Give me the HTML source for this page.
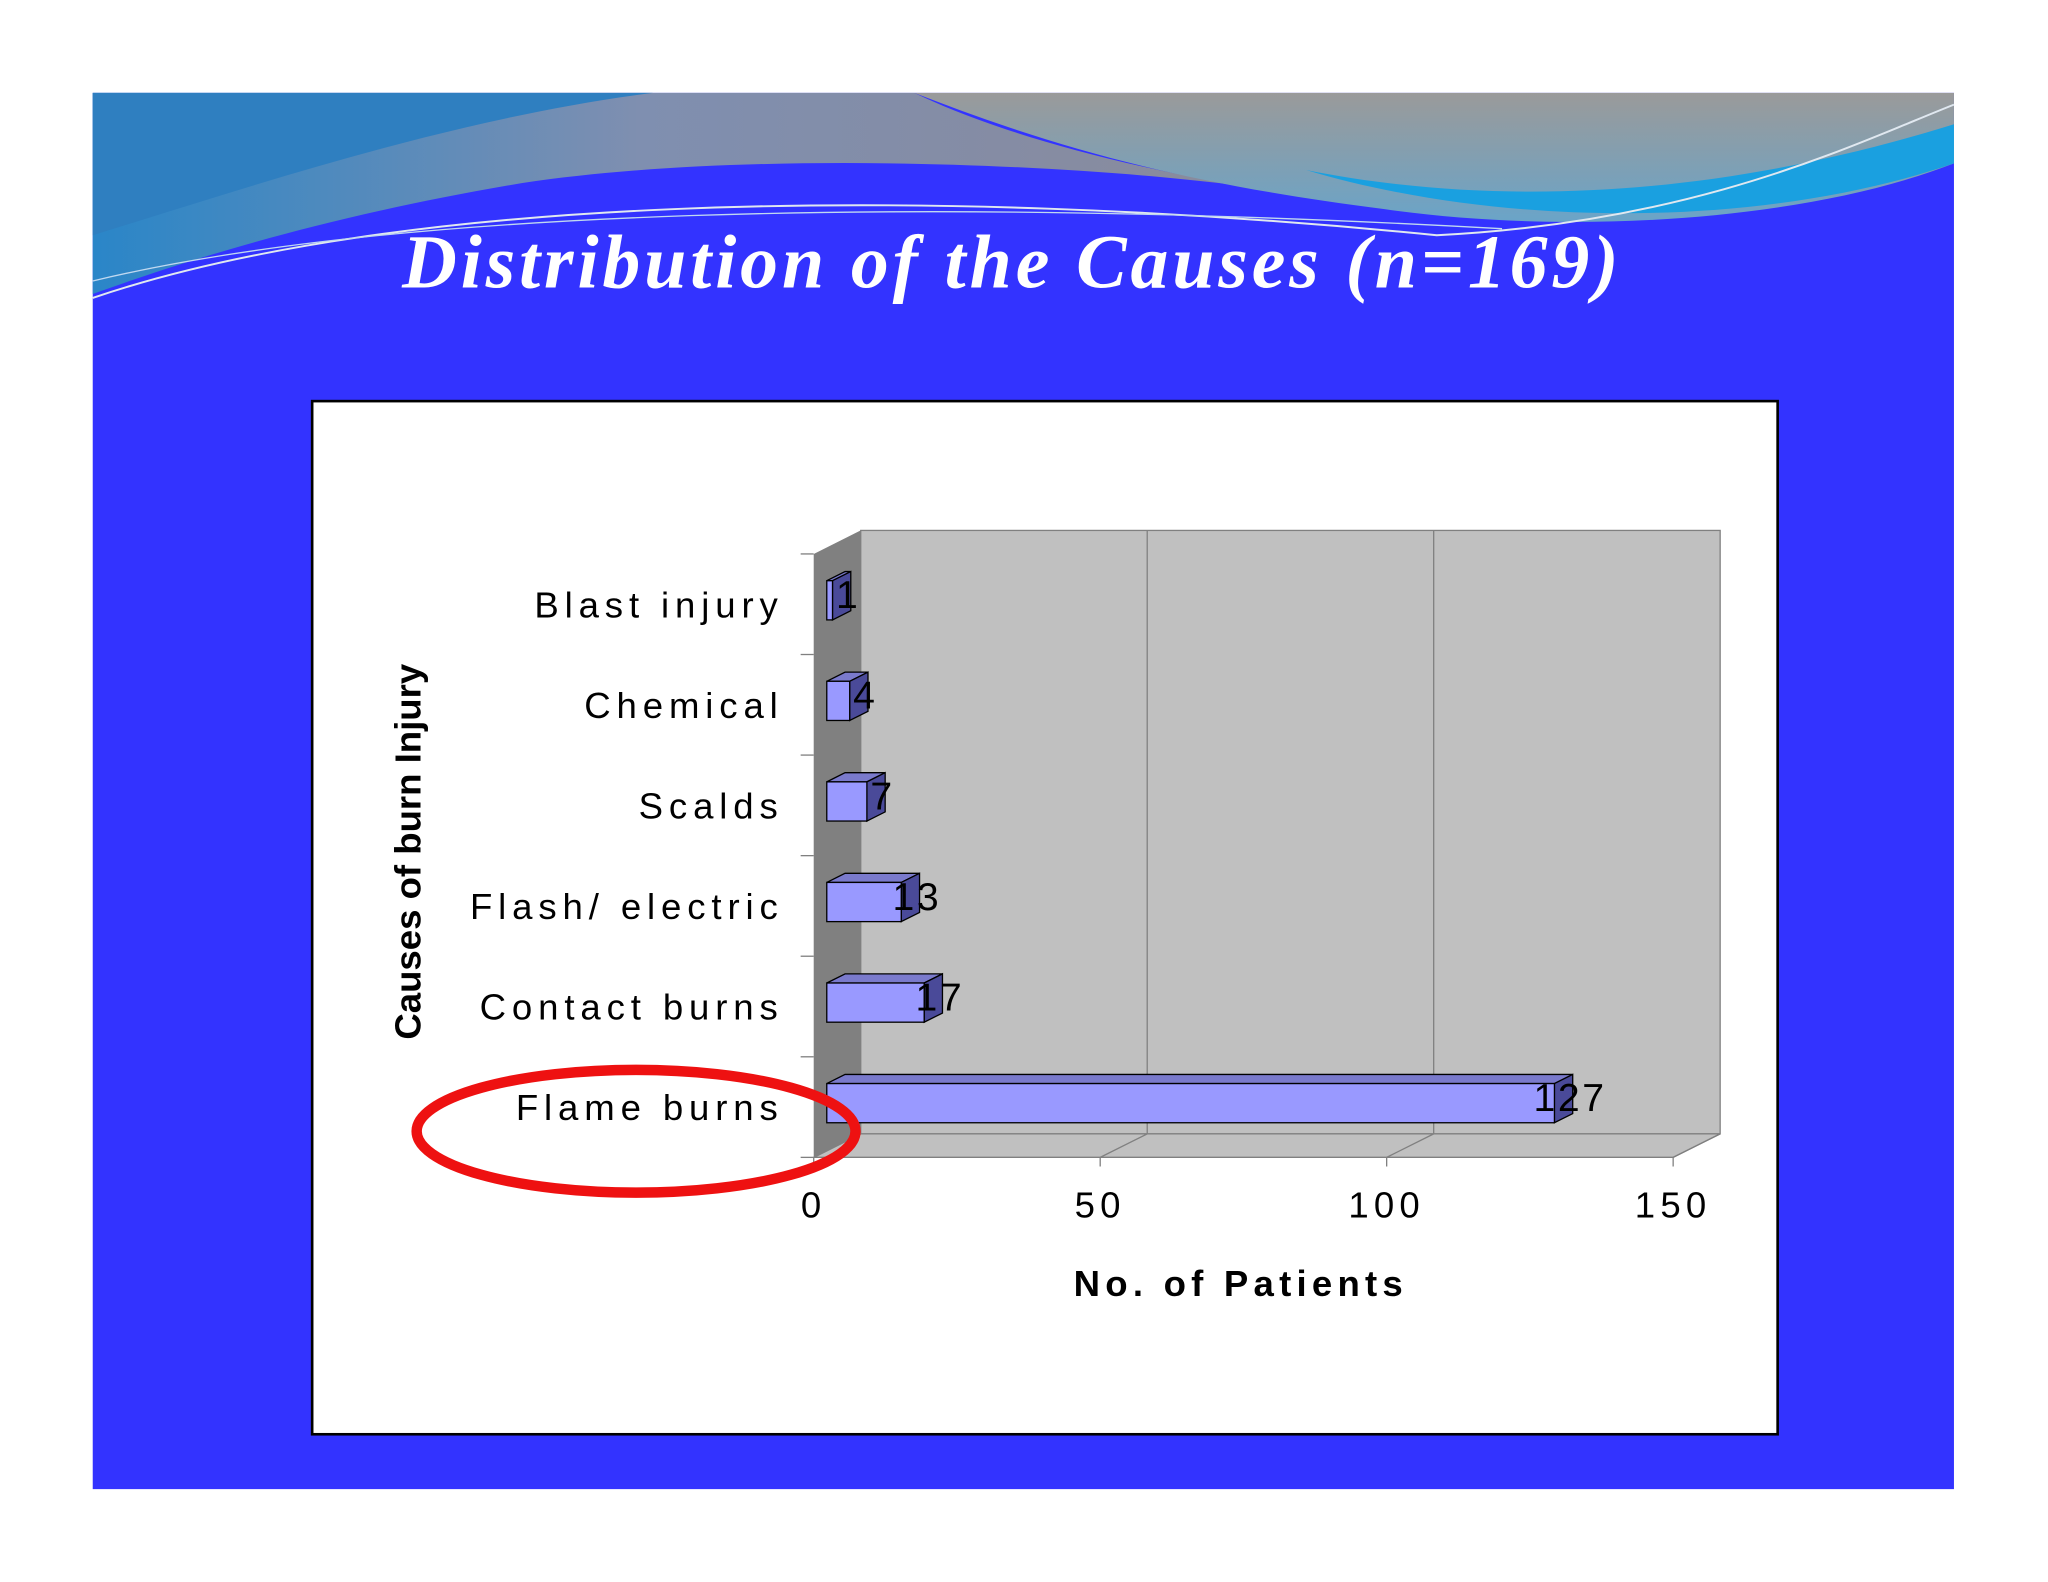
<!DOCTYPE html>
<html><head><meta charset="utf-8"><style>
html,body{margin:0;padding:0;background:#fff;}
svg{display:block;}
text{font-family:"Liberation Sans",sans-serif;}
</style></head><body>
<svg width="2048" height="1582" viewBox="0 0 1568 1211" xmlns="http://www.w3.org/2000/svg">
<defs>
<linearGradient id="hg" x1="0" y1="0" x2="1" y2="0">
<stop offset="0" stop-color="#2a86c8"/><stop offset="0.45" stop-color="#7f8fb0"/><stop offset="1" stop-color="#8a8a9a"/>
</linearGradient>
<linearGradient id="hg2" x1="0" y1="0" x2="0" y2="1">
<stop offset="0" stop-color="#9a9a9a"/><stop offset="1" stop-color="#6aa4c8"/>
</linearGradient>
</defs>
<rect x="71" y="71" width="1425" height="1069" fill="#3333ff"/>
<g>
<path d="M71,71 H700 C760,100 860,130 1000,150 C900,130 600,110 400,140 C250,165 140,200 71,225 Z" fill="url(#hg)"/>
<path d="M71,180 C200,140 350,90 500,71 H71 Z" fill="#2f7fc0"/>
<path d="M700,71 H1496 V125 C1380,170 1200,180 1060,160 C900,140 800,110 700,71 Z" fill="url(#hg2)"/>
<path d="M1000,130 C1150,160 1320,150 1496,95 V125 C1350,175 1150,175 1000,130 Z" fill="#1aa0e0"/>
<path d="M71,228 C300,150 700,140 1100,180 C1300,170 1420,110 1496,80" fill="none" stroke="#e0e8f0" stroke-width="1.5"/>
<path d="M71,215 C300,160 700,150 1150,175" fill="none" stroke="#c0d8f0" stroke-width="1"/>
</g>
<text x="775" y="220" text-anchor="middle" fill="#fff" font-size="58" letter-spacing="3" font-style="italic" font-weight="bold" style="font-family:'Liberation Serif',serif">Distribution of the Causes (n=169)</text>
<rect x="239" y="307" width="1122" height="791" fill="#fff" stroke="#000" stroke-width="2"/>
<g id="chart"></g>
<text transform="translate(322,652) rotate(-90)" text-anchor="middle" font-size="28" font-weight="bold">Causes of burn Injury</text>
<text x="950" y="992" text-anchor="middle" font-size="28" font-weight="bold" letter-spacing="4">No. of Patients</text>
<ellipse cx="487" cy="866" rx="168" ry="47" fill="none" stroke="#ee1111" stroke-width="8"/>
</svg>
<script>
const categories=["Blast injury","Chemical","Scalds","Flash/ electric","Contact burns","Flame burns"];
const values=[1,4,7,13,17,127];
const ticks=[0,50,100,150];
const NS="http://www.w3.org/2000/svg";
const g=document.getElementById('chart');
const X0=623,X1=1281,Y0=424,Y1=886,DX=36,DY=-18,BX=10,BDX=14,BDY=-7;
const xs=v=>X0+v*(X1-X0)/150;
const band=(Y1-Y0)/categories.length;
function mk(tag,at,parent){const e=document.createElementNS(NS,tag);for(const k in at)e.setAttribute(k,at[k]);(parent||g).appendChild(e);return e;}
let e;
e=mk('rect',{x:X0+DX,y:Y0+DY,width:X1-X0,height:Y1-Y0,fill:'#c0c0c0',stroke:'#808080'});


e=mk('polygon',{points:`${X0},${Y0} ${X0+DX},${Y0+DY} ${X0+DX},${Y1+DY} ${X0},${Y1}`,fill:'#808080'});


e=mk('polygon',{points:`${X0},${Y1} ${X0+DX},${Y1+DY} ${X1+DX},${Y1+DY} ${X1},${Y1}`,fill:'#c0c0c0',stroke:'#808080'});


ticks.forEach(t=>{
 const x=xs(t);
 if(t>0&&t<150){e=mk('line',{x1:x+DX,y1:Y0+DY,x2:x+DX,y2:Y1+DY,stroke:'#808080'});
 
 }
 mk('line',{x1:x,y1:Y1,x2:x+DX,y2:Y1+DY,stroke:'#808080'});
 mk('line',{x1:x,y1:Y1,x2:x,y2:Y1+7,stroke:'#808080'});
 e=mk('text',{x:x,y:Y1+46,'text-anchor':'middle','font-size':28,'letter-spacing':4});
 e.textContent=t;
 
 
});
mk('line',{x1:X0,y1:Y1,x2:X1,y2:Y1,stroke:'#808080'});
for(let i=0;i<=categories.length;i++){mk('line',{x1:X0-10,y1:Y0+i*band,x2:X0,y2:Y0+i*band,stroke:'#808080'});}
categories.forEach((c,i)=>{
 const cy=Y0+band*(i+0.5)-3, y=cy-15, h=30, xa=X0+BX, xb=xs(values[i])+BX;
 e=mk('text',{x:600,y:cy+13,'text-anchor':'end','font-size':28,'letter-spacing':4.5});
 e.textContent=c;
 
 
 const bg=mk('g',{});
 
 
 mk('polygon',{points:`${xa},${y} ${xa+BDX},${y+BDY} ${xb+BDX},${y+BDY} ${xb},${y}`,fill:'#7a7acc',stroke:'#000'},bg);
 mk('polygon',{points:`${xb},${y} ${xb+BDX},${y+BDY} ${xb+BDX},${y+h+BDY} ${xb},${y+h}`,fill:'#4a4a99',stroke:'#000'},bg);
 mk('rect',{x:xa,y:y,width:xb-xa,height:h,fill:'#9999ff',stroke:'#000'},bg);
 e=mk('text',{x:xb+12,y:cy+6,'font-size':30,'text-anchor':'middle','letter-spacing':2});
 e.textContent=values[i];
 
 
});
</script>
</body></html>
